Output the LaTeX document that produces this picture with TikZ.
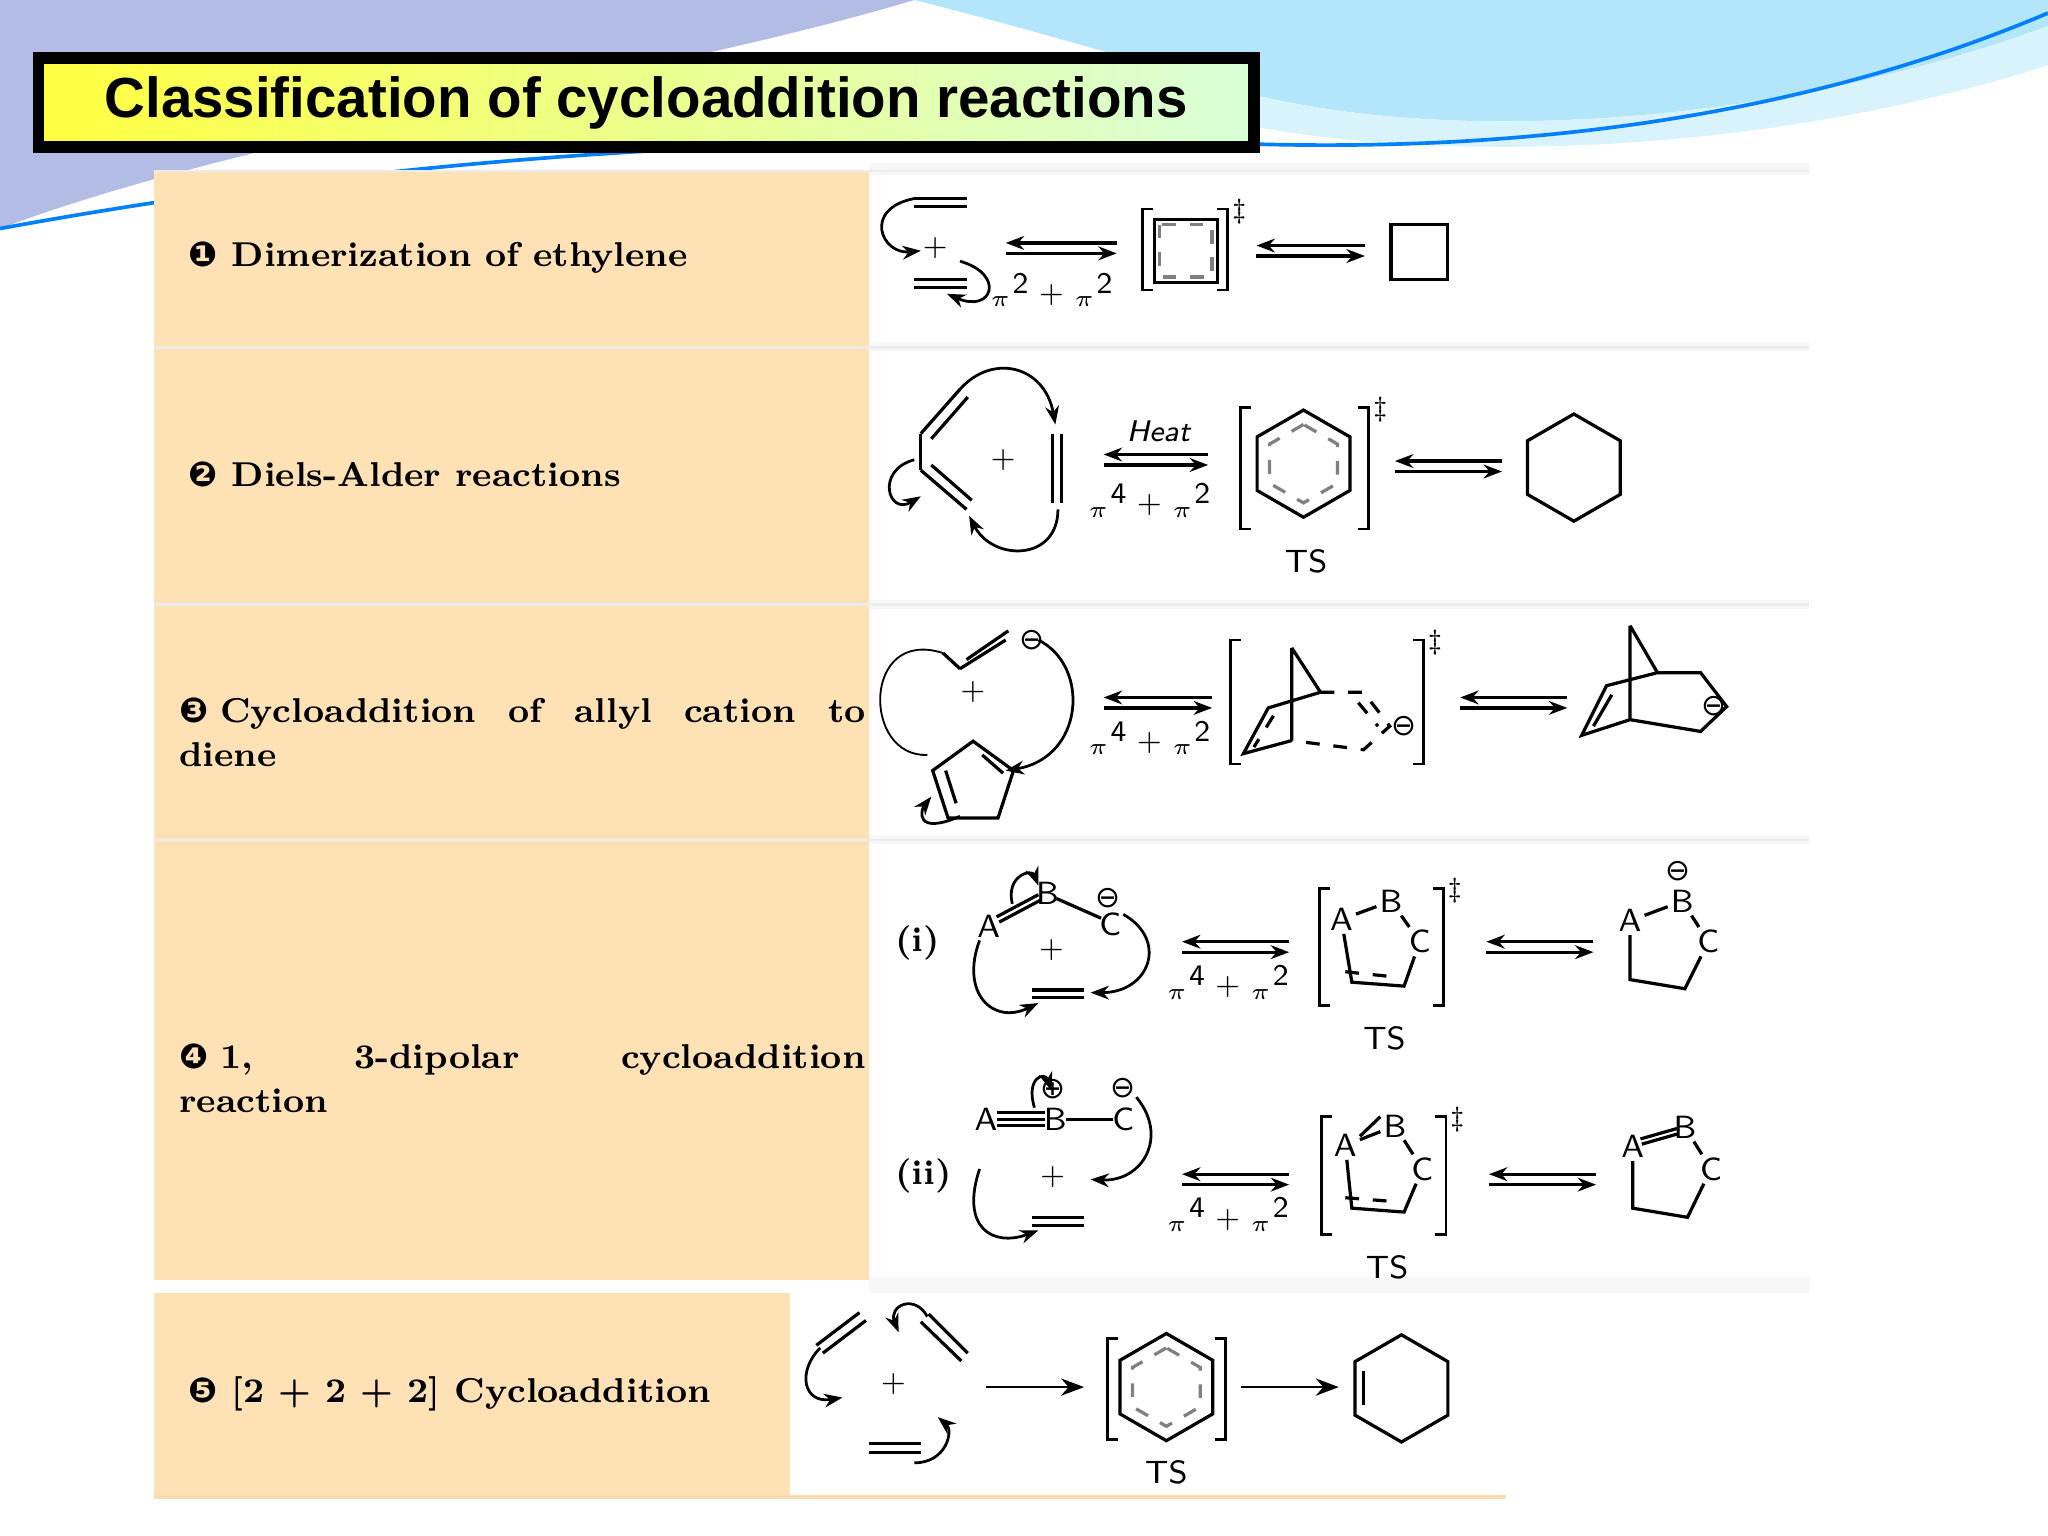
\documentclass[tikz,border=0pt]{standalone}
\usepackage{fontspec}
\newfontfamily\dejavu{DejaVu Sans}
\newfontfamily\headfont{Liberation Sans}
\usetikzlibrary{arrows.meta,shapes.geometric,positioning}
\tikzset{
  rowtext/.style={font=\fontsize{7.5}{9.5}\selectfont\bfseries, anchor=west},
  leftcell/.style={fill=orange!25!white!95!yellow, draw=none},
  eqarr/.style={-{Stealth[length=4pt,width=3pt]}, line width=0.7pt},
  curly/.style={-{Stealth[length=4pt]}, line width=0.6pt},
  bond/.style={line width=0.7pt},
  hexa/.style={regular polygon, regular polygon sides=6, shape border rotate=30, draw, line width=0.7pt, minimum size=0.82cm, inner sep=0pt},
  lbl/.style={font=\fontsize{7}{8}\selectfont\sffamily, inner sep=0.5pt},
  small/.style={font=\fontsize{6.5}{8}\selectfont\sffamily}
}
% equilibrium arrows: x1, x2, y
\newcommand{\eqpair}[3]{
  \draw[eqarr] (#2,#3-4) -- (#1,#3-4);
  \draw[eqarr] (#1,#3+4) -- (#2,#3+4);
}
\newcommand{\bra}[4]{% x1,y1,x2,y2
  \draw[line width=0.6pt] (#1+8,#2) -- (#1,#2) -- (#1,#4) -- (#1+8,#4);
  \draw[line width=0.6pt] (#3-8,#2) -- (#3,#2) -- (#3,#4) -- (#3-8,#4);
  \node[small, anchor=south west, inner sep=0pt] at (#3+2,#2+12) {$\ddagger$};
}
\newcommand{\pilbl}[4]{\node[small] at (#1,#2) {$_\pi$\raisebox{2pt}{#3} + $_\pi$\raisebox{2pt}{#4}};}
\begin{document}
\begin{tikzpicture}[x=0.01cm,y=-0.01cm]
\useasboundingbox (0,0) rectangle (1568,1176);
\fill[white] (0,0) rectangle (1568,1176);
% swooshes
\fill[cyan!35!blue!30] (0,0) -- (700,0) .. controls (500,60) and (200,100) .. (0,175) -- cycle;
\fill[cyan!30] (700,0) -- (1568,0) -- (1568,20) .. controls (1350,100) and (1100,110) .. (950,70) .. controls (850,40) and (760,15) .. (700,0) -- cycle;
\fill[cyan!15] (950,70) .. controls (1100,110) and (1350,100) .. (1568,20) -- (1568,50) .. controls (1350,120) and (1100,125) .. (950,95) -- cycle;
\draw[blue!50!cyan, line width=0.8pt] (0,175) .. controls (300,120) and (600,100) .. (950,110);
\draw[blue!50!cyan, line width=0.8pt] (950,110) .. controls (1250,120) and (1450,60) .. (1568,10);
% title
\node[draw, line width=2.5pt, minimum width=9.3cm, minimum height=0.68cm, anchor=north west,
  left color=yellow!75, right color=green!15!white, font=\headfont\fontsize{12.3}{15}\selectfont\bfseries]
  (title) at (25,40) {Classification of cycloaddition reactions};
% table
\fill[gray!6] (665,125) rectangle (1385,990);
\fill[leftcell] (118,130) rectangle (665,980);
\foreach \y in {130,265,462,642} \fill[white!85!gray] (118,\y) rectangle (1385,\y+2);
\fill[white] (665,134) rectangle (1385,262);
\fill[white] (665,269) rectangle (1385,459);
\fill[white] (665,466) rectangle (1385,639);
\fill[white] (665,646) rectangle (1385,978);
\fill[leftcell] (118,990) rectangle (605,1145);
\fill[white] (605,990) rectangle (1153,1145);
\draw[orange!30, line width=1pt] (118,1146) -- (1153,1146);
% left texts
\node[rowtext] (r1) at (132,197) {{\dejavu ❶} Dimerization of ethylene};
\node[rowtext] (r2) at (132,363) {{\dejavu ❷} Diels-Alder reactions};
\node[rowtext, text width=5.25cm, align=left, anchor=north west] (r3) at (125,522)
  {\hbox to 5.25cm{{\dejavu ❸} Cycloaddition \hfill of \hfill allyl \hfill cation \hfill to}\\ diene};
\node[rowtext, text width=5.25cm, align=left, anchor=north west] (r4) at (125,787)
  {\hbox to 5.25cm{{\dejavu ❹} 1, \hfill 3-dipolar \hfill cycloaddition}\\ reaction};
\node[rowtext] (r5) at (132,1067) {{\dejavu ❺} [2 + 2 + 2] Cycloaddition};
% ---- row 1
\draw[bond] (700,152) -- (740,152) (700,158) -- (740,158);
\draw[bond] (700,214) -- (740,214) (700,220) -- (740,220);
\draw[curly] (700,152) .. controls (660,160) and (675,195) .. (705,192);
\draw[curly] (735,200) .. controls (770,210) and (760,240) .. (725,225);
\node[small] at (716,190) {+};
\eqpair{770}{855}{190}
\pilbl{805}{222}{2}{2}
\draw[bond, dashed, gray] (888,172) rectangle (928,212);
\draw[bond] (884,168) rectangle (932,216);
\bra{875}{160}{940}{222}
\eqpair{962}{1045}{192}
\draw[bond] (1065,172) rectangle (1108,214);
% ---- row 2
\draw[bond] (705,332) -- (735,298) (713,336) -- (741,304);
\draw[bond] (705,332) -- (705,360);
\draw[bond] (705,360) -- (740,390) (713,356) -- (744,383);
\draw[bond] (806,332) -- (806,385) (813,332) -- (813,385);
\draw[curly] (735,298) .. controls (760,270) and (800,280) .. (808,325);
\draw[curly] (700,352) .. controls (670,360) and (680,395) .. (705,380);
\draw[curly] (810,390) .. controls (810,430) and (760,430) .. (742,395);
\node[small] at (768,352) {+};
\node[small, font=\fontsize{6.5}{8}\selectfont\sffamily\itshape] at (887,330) {Heat};
\eqpair{845}{925}{352}
\pilbl{880}{383}{4}{2}
\node[hexa] (ts2) at (998,355) {};
\node[hexa, minimum size=0.6cm, dashed, draw=gray] at (998,355) {};
\bra{950}{312}{1048}{405}
\node[lbl] at (1000,430) {TS};
\eqpair{1068}{1150}{357}
\node[hexa] (p2) at (1205,358) {};
% ---- row 3
\draw[bond] (735,512) -- (770,490) (740,505) -- (772,483);
\draw[bond] (735,512) -- (722,500);
\node[regular polygon, regular polygon sides=5, draw, line width=0.7pt, minimum size=0.65cm] (cp) at (745,600) {};
\draw[bond] (724,590) -- (732,615) (752,578) -- (768,592);
\draw (722,500) .. controls (660,480) and (660,580) .. (710,578);
\draw[curly] (795,490) .. controls (835,510) and (830,580) .. (770,590);
\draw[curly] (735,625) .. controls (700,640) and (705,620) .. (713,610);
\node[small] at (790,490) {\dejavu ⊖};
\node[small] at (745,530) {+};
\eqpair{845}{928}{538}
\pilbl{880}{565}{4}{2}
\bra{942}{490}{1090}{585}
\draw[bond] (989,496) -- (989,567) (989,496) -- (1011,530) -- (971,542) -- (952,577) -- (989,567);
\draw[bond, dashed] (1011,530) -- (1044,530) -- (1064,556) -- (1044,574) -- (989,567)
  (975,548) -- (960,572) (1040,538) -- (1055,556);
\node[small] at (1075,556) {\dejavu ⊖};
\eqpair{1118}{1200}{538}
\draw[bond] (1248,479) -- (1248,551) (1248,479) -- (1269,515) -- (1302,515) -- (1322,541) -- (1302,560) -- (1248,551) -- (1211,563) -- (1230,525) -- (1269,515)
  (1220,556) -- (1234,532);
\node[small] at (1312,541) {\dejavu ⊖};
% ---- row 4 (i)
\node[rowtext] (i) at (673,722) {(i)};
\node[lbl] (A1) at (757,709) {A};
\node[lbl] (B1) at (802,684) {B};
\node[lbl] (C1) at (850,708) {C};
\draw[bond] (763,702) -- (795,685) (765,706) -- (797,689) (809,688) -- (843,703);
\node[small] at (848,688) {\dejavu ⊖};
\draw[bond] (790,758) -- (830,758) (790,764) -- (830,764);
\node[small] at (805,727) {+};
\draw[curly] (750,720) .. controls (735,760) and (760,785) .. (795,768);
\draw[curly] (860,700) .. controls (895,720) and (880,760) .. (835,760);
\draw[curly] (775,692) .. controls (770,670) and (790,665) .. (795,678);
\eqpair{905}{987}{725}
\pilbl{940}{752}{4}{2}
\bra{1010}{680}{1105}{770}
\node[lbl] (A2) at (1027,704) {A};
\node[lbl] (B2) at (1065,690) {B};
\node[lbl] (C2) at (1087,721) {C};
\draw[bond] (A2) -- (B2) (B2) -- (C2) (C2) -- (1075,755) -- (1035,752) -- (A2);
\draw[bond, dashed] (1030,744) -- (1068,748);
\node[lbl] at (1060,795) {TS};
\eqpair{1138}{1220}{725}
\node[lbl] (A3) at (1248,705) {A};
\node[lbl] (B3) at (1288,690) {B};
\node[lbl] (C3) at (1308,721) {C};
\node[small] at (1285,667) {\dejavu ⊖};
\draw[bond] (A3) -- (B3) (B3) -- (C3) (C3) -- (1290,757) -- (1248,750) -- (A3);
% ---- row 4 (ii)
\node[rowtext] (ii) at (673,900) {(ii)};
\node[lbl] (A4) at (755,857) {A};
\node[lbl] (B4) at (808,857) {B};
\node[lbl] (C4) at (860,857) {C};
\draw[bond] (763,852) -- (800,852) (763,857) -- (800,857) (763,862) -- (800,862) (816,857) -- (852,857);
\node[small] at (806,834) {\dejavu ⊕};
\node[small] at (860,833) {\dejavu ⊖};
\draw[bond] (790,932) -- (830,932) (790,938) -- (830,938);
\node[small] at (806,901) {+};
\draw[curly] (750,895) .. controls (735,940) and (760,955) .. (795,942);
\draw[curly] (870,840) .. controls (895,870) and (875,905) .. (835,903);
\draw[curly] (792,848) .. controls (785,825) and (800,820) .. (805,835);
\eqpair{905}{987}{903}
\pilbl{940}{930}{4}{2}
\bra{1012}{855}{1107}{945}
\node[lbl] (A5) at (1030,877) {A};
\node[lbl] (B5) at (1068,862) {B};
\node[lbl] (C5) at (1089,895) {C};
\draw[bond] (A5) -- (B5) (B5) -- (C5) (C5) -- (1075,928) -- (1035,925) -- (A5);
\draw[bond] ([yshift=2pt]A5.east) -- ([yshift=2pt]B5.west);
\draw[bond, dashed] (1030,917) -- (1068,920);
\node[lbl] at (1062,970) {TS};
\eqpair{1140}{1222}{903}
\node[lbl] (A6) at (1250,878) {A};
\node[lbl] (B6) at (1290,863) {B};
\node[lbl] (C6) at (1310,895) {C};
\draw[bond] (1256,872) -- (1284,864) (1257,876) -- (1285,868);
\draw[bond] (B6) -- (C6) (C6) -- (1292,932) -- (1250,925) -- (A6);
% ---- row 5
\draw[bond] (625,1030) -- (658,1005) (630,1036) -- (663,1011);
\draw[bond] (705,1012) -- (736,1042) (711,1006) -- (741,1036);
\draw[bond] (665,1105) -- (705,1105) (665,1112) -- (705,1112);
\draw[curly] (628,1032) .. controls (610,1050) and (615,1075) .. (645,1070);
\draw[curly] (710,1008) .. controls (700,990) and (680,1000) .. (688,1020);
\draw[curly] (700,1120) .. controls (725,1120) and (730,1095) .. (718,1085);
\node[small] at (684,1060) {+};
\draw[-{Stealth[length=5pt]}, line width=0.6pt] (755,1062) -- (830,1062);
\node[hexa] (ts5) at (893,1062) {};
\node[hexa, minimum size=0.6cm, dashed, draw=gray] at (893,1062) {};
\draw[line width=0.6pt] (856,1025) -- (848,1025) -- (848,1102) -- (856,1102);
\draw[line width=0.6pt] (930,1025) -- (938,1025) -- (938,1102) -- (930,1102);
\node[lbl] at (893,1127) {TS};
\draw[-{Stealth[length=5pt]}, line width=0.6pt] (950,1062) -- (1025,1062);
\node[hexa] (p5) at (1073,1063) {};
\draw[bond] (1044,1050) -- (1044,1076);
\end{tikzpicture}
\end{document}
